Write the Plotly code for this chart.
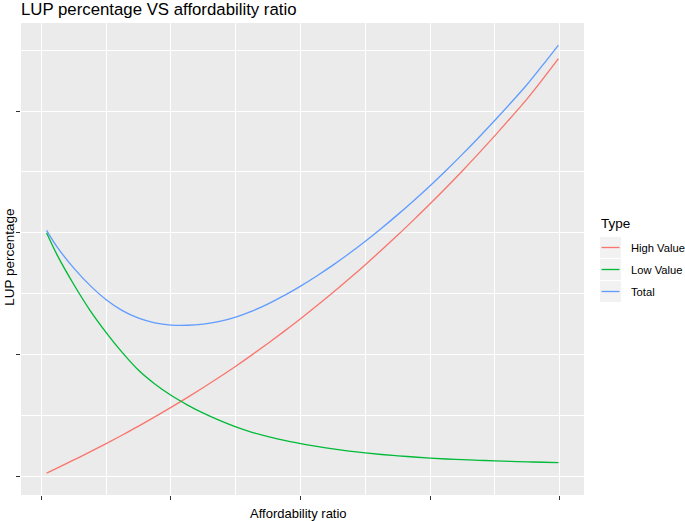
import plotly.graph_objects as go

# ---------------- data ----------------
x_ratio = [0.04, 0.125, 0.25, 0.375, 0.5, 0.625, 0.75, 0.875, 1.0, 1.125, 1.25, 1.375,
           1.5, 1.625, 1.75, 1.875, 2.0, 2.125, 2.25, 2.375, 2.5, 2.625, 2.75, 2.875,
           3.0, 3.125, 3.25, 3.375, 3.5, 3.625, 3.75, 3.875, 3.99]
high_value = [0.025, 0.068, 0.134, 0.2, 0.268, 0.339, 0.412, 0.488, 0.566, 0.646, 0.729, 0.815,
              0.904, 0.997, 1.093, 1.192, 1.294, 1.40, 1.509, 1.622, 1.738, 1.858, 1.981, 2.108,
              2.238, 2.372, 2.51, 2.652, 2.798, 2.948, 3.102, 3.27, 3.43]
low_value = [2.00, 1.81, 1.575, 1.363, 1.18, 1.015, 0.87, 0.758, 0.665, 0.587, 0.518, 0.458,
             0.405, 0.361, 0.325, 0.294, 0.268, 0.245, 0.225, 0.207, 0.192, 0.179, 0.168, 0.158,
             0.149, 0.142, 0.136, 0.131, 0.126, 0.122, 0.118, 0.115, 0.112]
total = [2.02, 1.878, 1.71, 1.568, 1.45, 1.36, 1.298, 1.26, 1.242, 1.24, 1.25, 1.272,
         1.307, 1.356, 1.416, 1.485, 1.562, 1.645, 1.734, 1.829, 1.93, 2.037, 2.149, 2.266,
         2.387, 2.514, 2.646, 2.783, 2.924, 3.07, 3.22, 3.385, 3.542]

series_names = ["High Value", "Low Value", "Total"]
series_values = [high_value, low_value, total]
series_colors = ["#F8766D", "#00BA38", "#619CFF"]

x_major_ticks = [0, 1, 2, 3, 4]
x_minor_ticks = [0.5, 1.5, 2.5, 3.5]
y_major_ticks = [0, 1, 2, 3]
y_minor_ticks = [0.5, 1.5, 2.5, 3.5]

title_text = "LUP percentage VS affordability ratio"
x_title = "Affordability ratio"
y_title = "LUP percentage"
legend_title = "Type"

# ---------------- layout constants ----------------
W, H = 685, 521
PL, PR, PT, PB = 21, 584, 23, 495  # panel edges in px
FONT = "Liberation Sans, Arial, Helvetica, sans-serif"


def px2x(px):
    return (px - PL) / (PR - PL)


def px2y(py):
    return (PB - py) / (PB - PT)


fig = go.Figure()
for name, vals, col in zip(series_names, series_values, series_colors):
    fig.add_trace(go.Scatter(
        x=x_ratio, y=vals, name=name, mode="lines",
        line=dict(color=col, width=1.35, shape="spline", smoothing=1.0),
        showlegend=False,
    ))

axis_common = dict(
    showticklabels=False, ticks="outside", ticklen=4, tickwidth=1.1,
    tickcolor="#333333", showgrid=True, gridcolor="white", gridwidth=1.1,
    zeroline=False, showline=False, fixedrange=True,
)

fig.update_xaxes(
    range=[-0.1575, 4.1875], tickmode="array", tickvals=x_major_ticks,
    minor=dict(tickmode="array", tickvals=x_minor_ticks, showgrid=True,
               gridcolor="white", gridwidth=0.55, ticks=""),
    **axis_common,
)
fig.update_yaxes(
    range=[-0.154, 3.723], tickmode="array", tickvals=y_major_ticks,
    minor=dict(tickmode="array", tickvals=y_minor_ticks, showgrid=True,
               gridcolor="white", gridwidth=0.55, ticks=""),
    **axis_common,
)

shapes = []
annotations = []

# axis titles
annotations.append(dict(
    text=x_title, xref="paper", yref="paper", x=px2x(298.7), y=px2y(513),
    xanchor="center", yanchor="middle", showarrow=False,
    font=dict(family=FONT, size=13, color="black"),
))
annotations.append(dict(
    text=y_title, xref="paper", yref="paper", x=px2x(8.7), y=px2y(257),
    xanchor="center", yanchor="middle", showarrow=False, textangle=-90,
    font=dict(family=FONT, size=13.5, color="black"),
))

# manual ggplot-style legend
annotations.append(dict(
    text=legend_title, xref="paper", yref="paper", x=px2x(599.5), y=px2y(223),
    xanchor="left", yanchor="middle", showarrow=False,
    font=dict(family=FONT, size=13.5, color="black"),
))
key_centers = [247.5, 269.5, 291.5]
for name, col, cy in zip(series_names, series_colors, key_centers):
    shapes.append(dict(
        type="rect", xref="paper", yref="paper",
        x0=px2x(600), x1=px2x(621), y0=px2y(cy - 10.5), y1=px2y(cy + 10.5),
        fillcolor="#F2F2F2", line=dict(width=0), layer="above",
    ))
    shapes.append(dict(
        type="line", xref="paper", yref="paper",
        x0=px2x(601.5), x1=px2x(619.5), y0=px2y(cy), y1=px2y(cy),
        line=dict(color=col, width=1.35), layer="above",
    ))
    annotations.append(dict(
        text=name, xref="paper", yref="paper", x=px2x(629), y=px2y(cy),
        xanchor="left", yanchor="middle", showarrow=False,
        font=dict(family=FONT, size=11.2, color="black"),
    ))

fig.update_layout(
    width=W, height=H,
    margin=dict(l=PL, r=W - PR, t=PT, b=H - PB, pad=0, autoexpand=False),
    paper_bgcolor="white", plot_bgcolor="#EBEBEB",
    title=dict(text=title_text, x=PL / W, xref="container", xanchor="left",
               y=1 - 9.5 / H, yref="container", yanchor="middle",
               font=dict(family=FONT, size=16.8, color="black")),
    font=dict(family=FONT, color="black"),
    showlegend=False,
    shapes=shapes,
    annotations=annotations,
)

fig.write_html(
    "out.html",
    config={"displayModeBar": False},
    post_script="document.body.style.margin='0';document.body.style.padding='0';"
                "document.body.style.overflow='hidden';",
)
